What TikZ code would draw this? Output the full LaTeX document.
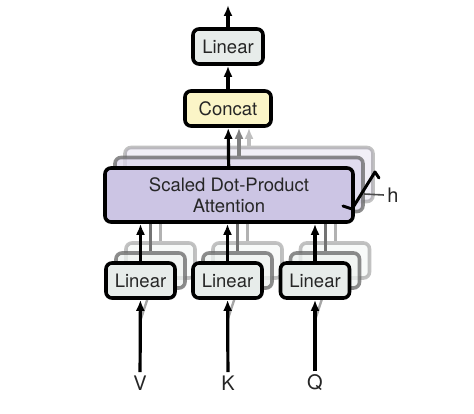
\documentclass[tikz,border=0pt]{standalone}
\usepackage{fontspec}
\setmainfont{TeX Gyre Heros}
\usetikzlibrary{arrows.meta}

\definecolor{linfill}{RGB}{231,236,234}
\definecolor{catfill}{RGB}{251,245,199}
\definecolor{attfill}{RGB}{204,197,228}

\begin{document}
\begin{tikzpicture}[x=1pt, y=-1pt,
    box/.style = {draw, line width=3.6pt, rounded corners=6pt, minimum height=35pt,
                  font=\fontsize{18.5}{21}\selectfont, text=black!85},
    lin/.style = {box, fill=linfill, minimum width=69pt},
    ghost/.style = {box, draw=black!60, fill=linfill!70, opacity=0.75, minimum width=69pt},
    aghost/.style = {box, draw=black!60, fill=attfill!70, opacity=0.75,
                     minimum width=248pt, minimum height=54pt},
    arr/.style = {line width=3.2pt, -{Latex[length=11pt,width=9pt]}},
    garr/.style = {arr, draw=black!50},
    lbl/.style = {font=\fontsize{20}{22}\selectfont, text=black!85}]
\useasboundingbox (0,0) rectangle (474,414);

% inputs
\node[lbl] (v) at (140,383) {V};
\node[lbl] (k) at (228,383) {K};
\node[lbl] (q) at (315,383) {Q};

% stacked linear layers
\foreach \n/\x in {v/140.5, k/227.5, q/315} {
    \node[ghost, opacity=0.4] (\n l2) at (\x+20,260.5) {};
    \node[ghost] (\n l1) at (\x+10,270.5) {};
}
\foreach \n/\x in {v/140.5, k/227.5, q/315} {
    \draw[black!35, line width=2.4pt] (\x,320) -- (\n l1.south);
    \node[lin] (\n l) at (\x,280.5) {Linear};
}

% stacked attention heads
\node[aghost, opacity=0.4] (att2) at (249,174.5) {};
\node[aghost] (att1) at (239,184.5) {};
\node[box, fill=attfill, minimum width=248pt, minimum height=54pt, align=center] (att)
    at (229,195) {Scaled Dot-Product\\Attention};

\node[box, fill=catfill, minimum width=86pt] (cat) at (228,108.5) {Concat};
\node[lin, minimum width=70pt] (top) at (228,46.5) {Linear};
\coordinate (out) at (228,5);

\foreach \n in {v,k,q} {
    \draw[black!30, line width=3pt] (\n l2.north) -- (\n l2.north |- att.south);
    \draw[black!55, line width=3pt] (\n l1.north) -- (\n l1.north |- att.south);
    \draw[arr] (\n) -- (\n l);
    \draw[arr] (\n l) -- (\n l |- att.south);
}
\draw[garr, draw=black!25] (att2.north) -- (att2.north |- cat.south);
\draw[garr] (att1.north) -- (att1.north |- cat.south);
\draw[arr] (att) -- (cat);
\draw[arr] (cat) -- (top);
\draw[arr] (top) -- (out);

% h bracket
\draw[line width=3pt, line cap=round, line join=round]
    (379,178) -- (375,172) -- (352,209) -- (343,206);
\coordinate (brace) at (364,194);
\node[lbl] (h) at (393,195) {h};
\draw[black!70, line width=1.6pt] (brace) -- (h.west);
\end{tikzpicture}
\end{document}
